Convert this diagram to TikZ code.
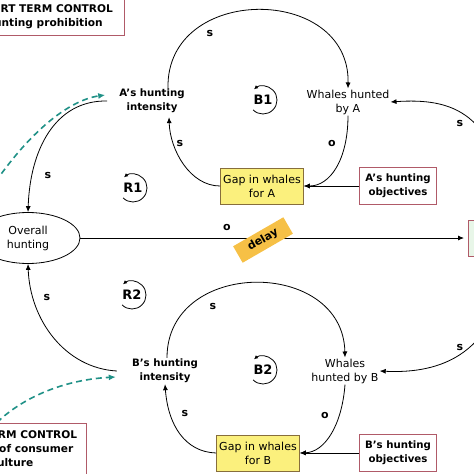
\documentclass[tikz,border=0pt]{standalone}
\usepackage{fontspec}
\setmainfont{DejaVu Sans}
\usetikzlibrary{arrows.meta,shapes.geometric}
\definecolor{gapYellow}{RGB}{251,240,125}
\definecolor{gapEdge}{RGB}{135,110,60}
\definecolor{boxRed}{RGB}{176,90,104}
\definecolor{popGreen}{RGB}{232,246,232}
\definecolor{delayOrange}{RGB}{246,192,70}
\definecolor{ctrlTeal}{RGB}{32,145,135}
\tikzset{
  var/.style={align=center, font=\fontsize{11}{14}\selectfont, inner sep=1pt},
  varbold/.style={var, font=\bfseries\fontsize{10.2}{14}\selectfont},
  gapbox/.style={var, draw=gapEdge, fill=gapYellow, line width=0.8pt, minimum width=83pt, minimum height=36pt},
  objbox/.style={varbold, draw=boxRed, fill=white, line width=0.8pt, minimum width=77pt, minimum height=37pt},
  ctrlbox/.style={varbold, font=\bfseries\fontsize{10.6}{14}\selectfont, draw=boxRed, fill=white, line width=1pt},
  link/.style={-{Latex[length=6pt,width=5pt]}, line width=0.8pt},
  ctrl/.style={-{Latex[length=7pt,width=6pt]}, ctrlTeal, line width=1.6pt, dash pattern=on 6pt off 4pt},
  sign/.style={font=\bfseries\fontsize{11}{12}\selectfont, inner sep=0pt},
  loopname/.style={font=\bfseries\fontsize{13}{14}\selectfont, inner sep=0pt},
  looparrow/.style={-{Latex[length=4pt,width=4pt]}, line width=0.8pt}
}
\begin{document}
\begin{tikzpicture}[x=1pt, y=1pt]
\useasboundingbox (0,0) rectangle (474,-474);
\clip (0,0) rectangle (474,-474);
% variables
\node[varbold] (aint) at (152,-101) {A’s hunting\\intensity};
\node[var] (whA) at (348,-102) {Whales hunted\\by A};
\node[gapbox] (gapA) at (262,-186) {Gap in whales\\for A};
\node[objbox] (objA) at (398,-186) {A’s hunting\\objectives};
\node[varbold] (bint) at (165,-371) {B’s hunting\\intensity};
\node[var] (whB) at (345,-371) {Whales\\hunted by B};
\node[gapbox] (gapB) at (258,-453) {Gap in whales\\for B};
\node[objbox] (objB) at (398,-453) {B’s hunting\\objectives};
\node[var, ellipse, draw, line width=0.8pt, minimum width=104pt, minimum height=51pt, inner sep=0pt] (overall) at (28,-238) {Overall\\hunting};
\node[objbox, fill=popGreen, anchor=west, minimum height=36pt] (pop) at (468,-238) {Whale\\population};
\node[ctrlbox, minimum width=160pt, minimum height=36pt] (stc) at (44,-17) {SHORT TERM CONTROL\\Hunting prohibition};
\node[ctrlbox, minimum width=148pt, minimum height=52pt] (ltc) at (12,-449) {LONG TERM CONTROL\\Change of consumer\\culture};
% links
\draw[link] ([xshift=16pt]aint.north) .. controls (166,16) and (350,16) .. (whA.north);
\draw[link] (whA.south) .. controls (348,-160) and (330,-186) .. (gapA.east);
\draw[link] (objA.west) -- (gapA.east);
\draw[link] (gapA.west) .. controls (190,-186) and (170,-150) .. ([xshift=17pt,yshift=-3pt]aint.south);
\draw[link] ([xshift=-11pt]aint.west) .. controls (55,-100) and (30,-150) .. (overall.north);
\draw[link] ([xshift=2pt]bint.north) .. controls (167,-258) and (343,-258) .. (whB.north);
\draw[link] (whB.south) .. controls (342,-425) and (325,-452) .. (gapB.east);
\draw[link] (objB.west) -- (gapB.east);
\draw[link] (gapB.west) .. controls (185,-452) and (168,-425) .. (bint.south);
\draw[link] ([xshift=-14pt]bint.west) .. controls (65,-368) and (30,-320) .. (overall.south);
\draw[link] (overall.east) -- ([xshift=-4pt]pop.west);
\draw[link] (pop.north) .. controls (500,-110) and (450,-98) .. (whA.east);
\draw[link] (pop.south) .. controls (500,-355) and (440,-374) .. (whB.east);
\node[sign, fill=delayOrange, rotate=30, minimum width=58pt, minimum height=19pt] (delay) at (263,-240) {delay};
% control actions
\coordinate (stcend) at (-10,-190);
\draw[ctrl] (stcend) .. controls (30,-130) and (70,-100) .. ([xshift=-13pt,yshift=6pt]aint.west);
\draw[ctrl] ([xshift=-15pt]ltc.north) .. controls (20,-400) and (60,-380) .. ([xshift=-15pt,yshift=-6pt]bint.west);
% polarities and loops
\foreach \t/\x/\y [count=\k] in {s/210/33, o/332/143, s/180/143, s/48/175, s/47/297, o/227/227, s/460/123, s/213/306, s/460/347, o/325/415, s/185/413}
  \node[sign] (sign\k) at (\x,-\y) {\t};
\foreach \n/\x/\y in {B1/263/100, R1/133/188, R2/132/295, B2/263/370}
  { \node[loopname] (\n) at (\x,-\y) {\n}; \draw[looparrow] (\n.center) ++(-135:14) arc (-135:130:14); }
\end{tikzpicture}
\end{document}
